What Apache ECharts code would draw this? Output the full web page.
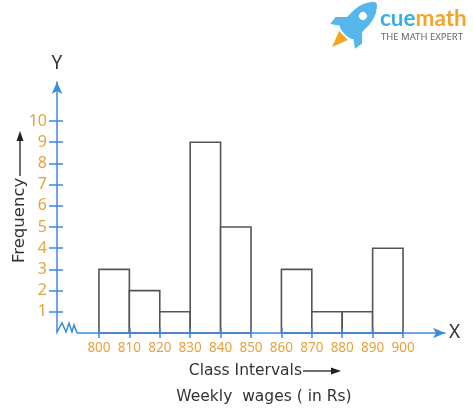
<!DOCTYPE html>
<html>
<head>
<meta charset="utf-8">
<script src="https://cdn.jsdelivr.net/npm/echarts@6/dist/echarts.min.js"></script>
<style>
html,body{margin:0;padding:0;background:#fff;}
#chart{width:474px;height:412px;}
</style>
</head>
<body>
<div id="chart"></div>
<script>
// ---- data ----
const binStarts = [800, 810, 820, 830, 840, 850, 860, 870, 880, 890];
const binEnds   = [810, 820, 830, 840, 850, 860, 870, 880, 890, 900];
const frequencies = [3, 2, 1, 9, 5, 0, 3, 1, 1, 4];
const xTickValues = [800, 810, 820, 830, 840, 850, 860, 870, 880, 890, 900];
const yTickValues = [1, 2, 3, 4, 5, 6, 7, 8, 9, 10];
const xAxisTitle = 'Class Intervals';
const xAxisSubtitle = 'Weekly  wages ( in Rs)';
const yAxisTitle = 'Frequency';

const BLUE = '#3b8cd8';
const ORANGE = '#e8a23c';
const TEXT = '#333333';
const FONT = '"Noto Sans", sans-serif';
const TFONT = '"DejaVu Sans", sans-serif';

const chart = echarts.init(document.getElementById('chart'), null, {renderer: 'canvas'});

const X_MIN = 786.2, X_MAX = 913.8, Y_MIN = 0, Y_MAX = 11.84;

const barData = binStarts.map((s, i) => [s, binEnds[i], frequencies[i]]);

const option = {
  animation: false,
  backgroundColor: '#fff',
  grid: {left: 57, right: 29, top: 82, bottom: 79},
  xAxis: [
    {
      type: 'value', min: X_MIN, max: X_MAX, z: 5, splitLine: {show: false},
      axisLine: {show: true, lineStyle: {color: BLUE, width: 1.5}, symbol: ['none', 'arrow'], symbolSize: [8, 12]},
      axisTick: {show: true, customValues: xTickValues, length: 5, lineStyle: {color: BLUE, width: 1.5}},
      axisLabel: {show: true, customValues: xTickValues, color: ORANGE, fontSize: 13.5, fontFamily: FONT, margin: 8},
      name: 'X', nameLocation: 'end', nameGap: 4,
      nameTextStyle: {color: TEXT, fontSize: 19, fontFamily: FONT, verticalAlign: 'middle', align: 'left'}
    },
    {
      type: 'value', min: X_MIN, max: X_MAX, z: 5, position: 'bottom', splitLine: {show: false},
      axisLine: {show: false},
      axisTick: {show: true, inside: true, customValues: xTickValues, length: 5, lineStyle: {color: BLUE, width: 1.5}},
      axisLabel: {show: false}
    }
  ],
  yAxis: [
    {
      type: 'value', min: Y_MIN, max: Y_MAX, z: 5, splitLine: {show: false},
      axisLine: {show: true, lineStyle: {color: BLUE, width: 1.5}, symbol: ['none', 'arrow'], symbolSize: [8, 12]},
      axisTick: {show: true, customValues: yTickValues, length: 8, lineStyle: {color: BLUE, width: 1.5}},
      axisLabel: {show: true, customValues: yTickValues, color: ORANGE, fontSize: 16, fontFamily: FONT, margin: 10},
      name: 'Y', nameLocation: 'end', nameGap: 9,
      nameTextStyle: {color: TEXT, fontSize: 19, fontFamily: FONT}
    },
    {
      type: 'value', min: Y_MIN, max: Y_MAX, z: 5, position: 'left', splitLine: {show: false},
      axisLine: {show: false},
      axisTick: {show: true, inside: true, customValues: yTickValues, length: 6, lineStyle: {color: BLUE, width: 1.5}},
      axisLabel: {show: false}
    }
  ],
  series: [{
    type: 'custom',
    xAxisIndex: 0, yAxisIndex: 0,
    z: 2,
    data: barData,
    renderItem: function (params, api) {
      const v = api.value(2);
      if (!(v > 0)) return null;
      const p0 = api.coord([api.value(0), 0]);
      const p1 = api.coord([api.value(1), v]);
      return {
        type: 'rect',
        shape: {x: p0[0], y: p1[1], width: p1[0] - p0[0], height: p0[1] - p1[1]},
        style: {fill: '#ffffff', stroke: '#555555', lineWidth: 1.6}
      };
    }
  }]
};

chart.setOption(option);

// ---- decorations (labels, zig-zag, logo) ----
const origin = chart.convertToPixel({xAxisIndex: 0, yAxisIndex: 0}, [X_MIN, 0]);
const ox = origin[0], oy = origin[1];
const xMidPix = chart.convertToPixel({xAxisIndex: 0}, 850);

chart.setOption({
  graphic: [
    {type: 'rect', z: 100, shape: {x: ox + 1, y: oy - 4, width: 19, height: 8}, style: {fill: '#fff'}},
    {type: 'rect', z: 100, shape: {x: ox - 4, y: oy - 2, width: 8, height: 6}, style: {fill: '#fff'}},
    {type: 'polyline', z: 101, shape: {points: [
      [ox, oy - 3], [ox, oy - 1], [ox + 5, oy - 10], [ox + 9, oy - 1], [ox + 12, oy - 10],
      [ox + 15, oy - 1], [ox + 17, oy - 8], [ox + 20, oy]
    ]}, style: {stroke: BLUE, lineWidth: 1.5, fill: null}},
    // x titles
    {type: 'text', z: 50, style: {text: xAxisTitle, x: xMidPix + 51, y: oy + 38, fill: TEXT, fontSize: 15.5, fontFamily: TFONT, verticalAlign: 'middle', align: 'right'}},
    {type: 'line', z: 50, shape: {x1: xMidPix + 52, y1: oy + 38, x2: xMidPix + 84, y2: oy + 38}, style: {stroke: '#222', lineWidth: 1.3}},
    {type: 'polygon', z: 50, shape: {points: [[xMidPix + 90, oy + 38], [xMidPix + 80, oy + 34.5], [xMidPix + 80, oy + 41.5]]}, style: {fill: '#222'}},
    {type: 'text', z: 50, style: {text: xAxisSubtitle, x: xMidPix + 13, y: oy + 64, fill: TEXT, fontSize: 15.5, fontFamily: TFONT, verticalAlign: 'middle', align: 'center'}},
    // y title
    {type: 'text', z: 50, x: 20, y: 263, rotation: Math.PI / 2, style: {text: yAxisTitle, x: 0, y: 0, fill: TEXT, fontSize: 16.5, fontFamily: TFONT, verticalAlign: 'middle', align: 'left'}},
    {type: 'line', z: 50, shape: {x1: 20, y1: 176, x2: 20, y2: 138}, style: {stroke: '#222', lineWidth: 1.3}},
    {type: 'polygon', z: 50, shape: {points: [[20, 131], [16.5, 141], [23.5, 141]]}, style: {fill: '#222'}},
    // logo
    {type: 'group', z: 50, x: 355, y: 24, scaleX: 1.25, scaleY: 1.25, rotation: -Math.PI / 4, children: [
      {type: 'polygon', shape: {points: [[0,-24],[5,-19],[8,-11],[8.5,-2],[7,10],[-7,10],[-8.5,-2],[-8,-11],[-5,-19]], smooth: 0.3}, style: {fill: '#55b6ea'}},
      {type: 'polygon', shape: {points: [[-7,-1],[-15,7],[-14,14],[-7,9]]}, style: {fill: '#55b6ea'}},
      {type: 'polygon', shape: {points: [[7,-1],[15,7],[14,14],[7,9]]}, style: {fill: '#55b6ea'}},
      {type: 'polygon', shape: {points: [[-5,13],[5,13],[0,26]]}, style: {fill: '#f5a623'}},
      {type: 'circle', shape: {cx: 0, cy: -9, r: 3.2}, style: {fill: '#fff'}}
    ]},
    {type: 'text', z: 50, style: {
      text: '{a|cue}{b|math}', x: 380, y: 19, verticalAlign: 'middle',
      rich: {
        a: {fill: '#3aaee3', fontSize: 22.5, fontFamily: '"Lato", sans-serif', fontWeight: 'bold'},
        b: {fill: '#f4a42a', fontSize: 22.5, fontFamily: '"Lato", sans-serif', fontWeight: 'bold'}
      }
    }},
    {type: 'text', z: 50, style: {text: 'THE MATH EXPERT', x: 381, y: 37, fill: '#666', fontSize: 9.5, fontFamily: '"Noto Sans", sans-serif', verticalAlign: 'middle'}}
  ]
});
</script>
</body>
</html>
